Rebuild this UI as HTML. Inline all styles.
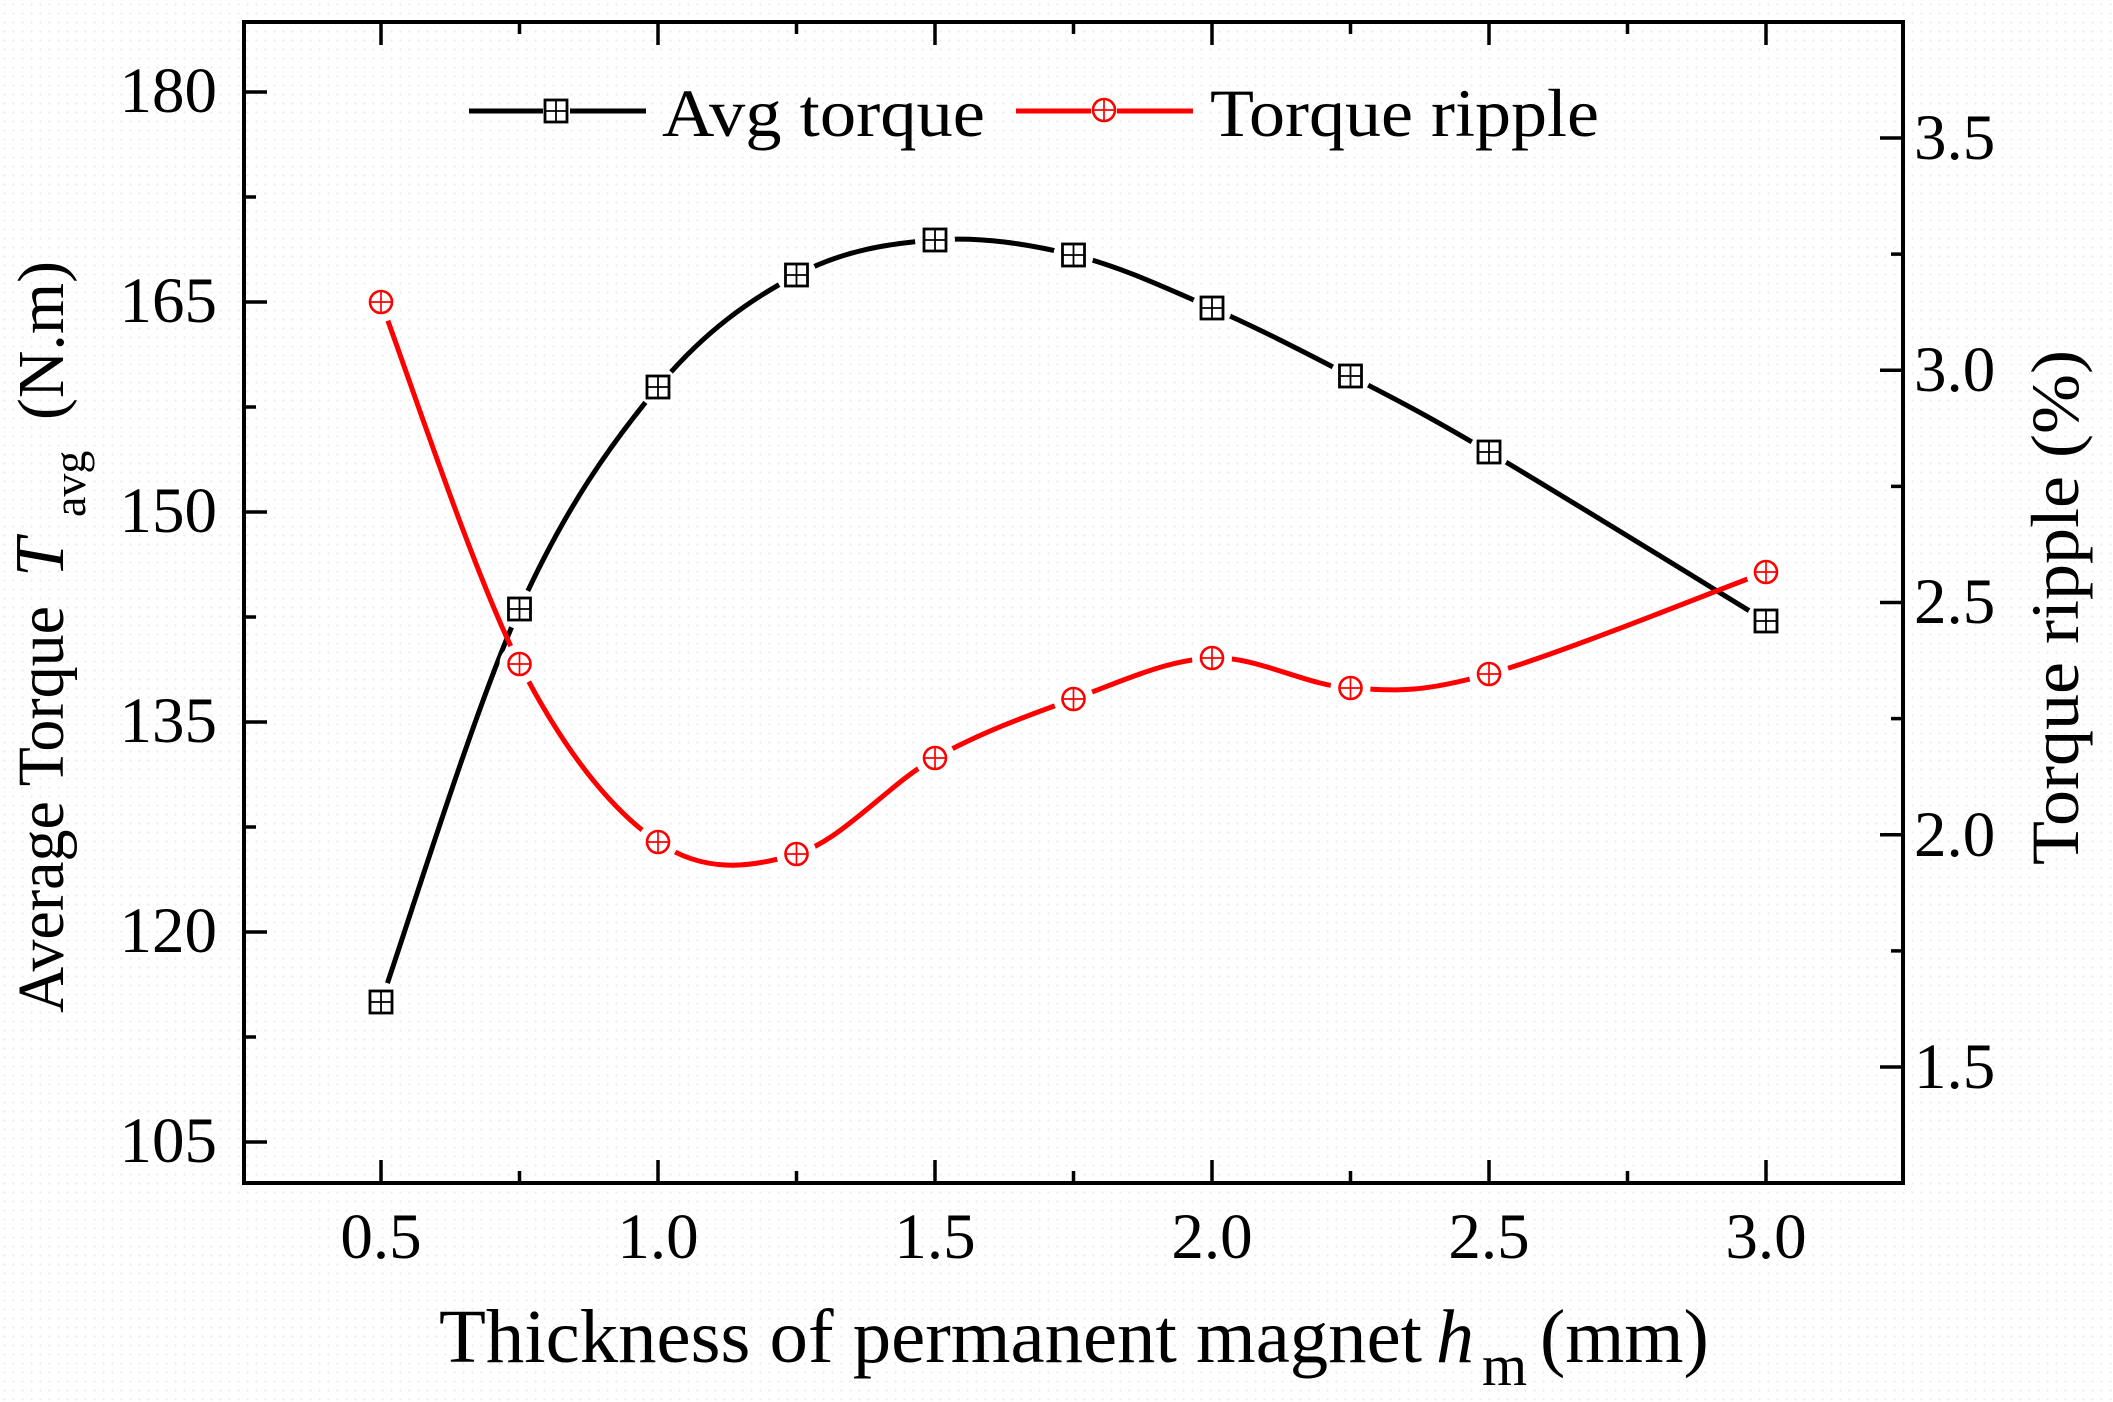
<!DOCTYPE html>
<html>
<head>
<meta charset="utf-8">
<style>
  html, body { margin: 0; padding: 0; background: #ffffff; }
  svg { display: block; }
  text { font-family: "Liberation Serif", "Times New Roman", serif; fill: #000; }
</style>
</head>
<body>
<svg width="2113" height="1402" viewBox="0 0 2113 1402" xmlns="http://www.w3.org/2000/svg">
  <defs>
    <pattern id="dots" x="0" y="0" width="9" height="9" patternUnits="userSpaceOnUse">
      <circle cx="4.5" cy="4.5" r="1.1" fill="#ececec"/>
    </pattern>
  </defs>
  <rect x="0" y="0" width="2113" height="1402" fill="#ffffff"/>
  <rect x="0" y="0" width="2113" height="1402" fill="url(#dots)"/>

  <!-- Ticks -->
  <g stroke="#000" stroke-width="3.5" fill="none">
    <path d="M381 1183V1160 M658 1183V1160 M935 1183V1160 M1212 1183V1160 M1489 1183V1160 M1766 1183V1160"/>
    <path d="M519.5 1183V1171 M796.5 1183V1171 M1073.5 1183V1171 M1350.5 1183V1171 M1627.5 1183V1171"/>
    <path d="M381 22V45 M658 22V45 M935 22V45 M1212 22V45 M1489 22V45 M1766 22V45"/>
    <path d="M519.5 22V34 M796.5 22V34 M1073.5 22V34 M1350.5 22V34 M1627.5 22V34"/>
    <path d="M244 1142H267 M244 932H267 M244 722H267 M244 512H267 M244 302H267 M244 92H267"/>
    <path d="M244 1037H256 M244 827H256 M244 617H256 M244 407H256 M244 197H256"/>
    <path d="M1903 1067H1880 M1903 834.75H1880 M1903 602.5H1880 M1903 370.25H1880 M1903 138H1880"/>
    <path d="M1903 950.9H1891 M1903 718.6H1891 M1903 486.4H1891 M1903 254.1H1891"/>
  </g>

  <!-- Frame -->
  <rect x="244" y="22" width="1659" height="1161" fill="none" stroke="#000" stroke-width="4"/>

  <!-- Tick labels -->
  <g font-size="65">
    <text x="381" y="1258" text-anchor="middle">0.5</text>
    <text x="658" y="1258" text-anchor="middle">1.0</text>
    <text x="935" y="1258" text-anchor="middle">1.5</text>
    <text x="1212" y="1258" text-anchor="middle">2.0</text>
    <text x="1489" y="1258" text-anchor="middle">2.5</text>
    <text x="1766" y="1258" text-anchor="middle">3.0</text>

    <text x="217" y="1162" text-anchor="end">105</text>
    <text x="217" y="952" text-anchor="end">120</text>
    <text x="217" y="742" text-anchor="end">135</text>
    <text x="217" y="532" text-anchor="end">150</text>
    <text x="217" y="322" text-anchor="end">165</text>
    <text x="217" y="112" text-anchor="end">180</text>

    <text x="1914" y="1088">1.5</text>
    <text x="1914" y="856">2.0</text>
    <text x="1914" y="623">2.5</text>
    <text x="1914" y="391">3.0</text>
    <text x="1914" y="159">3.5</text>
  </g>

  <!-- X axis title -->
  <text x="439" y="1362" font-size="76" textLength="983" lengthAdjust="spacingAndGlyphs">Thickness of permanent magnet</text>
  <text x="1436" y="1362" font-size="76" font-style="italic">h</text>
  <text x="1482" y="1385" font-size="58">m</text>
  <text x="1540" y="1362" font-size="76">(mm)</text>

  <!-- Left Y title -->
  <g transform="translate(63,1015) rotate(-90)">
    <text x="2" y="0" font-size="66" textLength="407" lengthAdjust="spacingAndGlyphs">Average Torque</text>
    <text x="438" y="0" font-size="70" font-style="italic">T</text>
    <text x="498" y="22" font-size="46">avg</text>
    <text x="595" y="0" font-size="66" textLength="159" lengthAdjust="spacingAndGlyphs">(N.m)</text>
  </g>

  <!-- Right Y title -->
  <g transform="translate(2078,865) rotate(-90)">
    <text x="0" y="0" font-size="68" textLength="515" lengthAdjust="spacingAndGlyphs">Torque ripple (%)</text>
  </g>

  <!-- Black series: Avg torque -->
  <path fill="none" stroke="#000" stroke-width="5" stroke-linejoin="round"
    d="M381 1002
       C404.1 936.5 473.3 711.5 519.5 609
       C565.7 506.5 611.8 442.7 658 387
       C704.2 331.3 750.3 299.5 796.5 275
       C842.7 250.5 888.8 243.3 935 240
       C981.2 236.7 1027.3 243.7 1073.5 255
       C1119.7 266.3 1165.8 287.8 1212 308
       C1258.2 328.2 1304.3 352 1350.5 376
       C1396.7 400 1419.75 411.2 1489 452
       C1558.25 492.8 1719.8 592.8 1766 621"/>
  <g fill="#fff">
    <circle cx="381" cy="1002" r="20"/>
    <circle cx="519.5" cy="609" r="20"/>
    <circle cx="658" cy="387" r="20"/>
    <circle cx="796.5" cy="275" r="20"/>
    <circle cx="935" cy="240" r="20"/>
    <circle cx="1073.5" cy="255" r="20"/>
    <circle cx="1212" cy="308" r="20"/>
    <circle cx="1350.5" cy="376" r="20"/>
    <circle cx="1489" cy="452" r="20"/>
    <circle cx="1766" cy="621" r="20"/>
  </g>
  <g fill="none" stroke="#000" stroke-width="2.8">
    <rect x="370" y="991" width="22" height="22"/><path d="M381 991V1013 M370 1002H392" stroke-width="1.8"/>
    <rect x="508.5" y="598" width="22" height="22"/><path d="M519.5 598V620 M508.5 609H530.5" stroke-width="1.8"/>
    <rect x="647" y="376" width="22" height="22"/><path d="M658 376V398 M647 387H669" stroke-width="1.8"/>
    <rect x="785.5" y="264" width="22" height="22"/><path d="M796.5 264V286 M785.5 275H807.5" stroke-width="1.8"/>
    <rect x="924" y="229" width="22" height="22"/><path d="M935 229V251 M924 240H946" stroke-width="1.8"/>
    <rect x="1062.5" y="244" width="22" height="22"/><path d="M1073.5 244V266 M1062.5 255H1084.5" stroke-width="1.8"/>
    <rect x="1201" y="297" width="22" height="22"/><path d="M1212 297V319 M1201 308H1223" stroke-width="1.8"/>
    <rect x="1339.5" y="365" width="22" height="22"/><path d="M1350.5 365V387 M1339.5 376H1361.5" stroke-width="1.8"/>
    <rect x="1478" y="441" width="22" height="22"/><path d="M1489 441V463 M1478 452H1500" stroke-width="1.8"/>
    <rect x="1755" y="610" width="22" height="22"/><path d="M1766 610V632 M1755 621H1777" stroke-width="1.8"/>
  </g>

  <!-- Red series: Torque ripple -->
  <path fill="none" stroke="#ff0000" stroke-width="5" stroke-linejoin="round"
    d="M381 302
       C404.1 362.3 473.3 574 519.5 664
       C565.7 754 611.8 810.3 658 842
       C704.2 873.7 750.3 868 796.5 854
       C842.7 840 888.8 783.8 935 758
       C981.2 732.2 1027.3 715.7 1073.5 699
       C1119.7 682.3 1165.8 659.8 1212 658
       C1258.2 656.2 1304.3 685.3 1350.5 688
       C1396.7 690.7 1419.75 693.3 1489 674
       C1558.25 654.7 1719.8 589 1766 572"/>
  <g fill="#fff">
    <circle cx="381" cy="302" r="20"/>
    <circle cx="519.5" cy="664" r="20"/>
    <circle cx="658" cy="842" r="20"/>
    <circle cx="796.5" cy="854" r="20"/>
    <circle cx="935" cy="758" r="20"/>
    <circle cx="1073.5" cy="699" r="20"/>
    <circle cx="1212" cy="658" r="20"/>
    <circle cx="1350.5" cy="688" r="20"/>
    <circle cx="1489" cy="674" r="20"/>
    <circle cx="1766" cy="572" r="20"/>
  </g>
  <g fill="none" stroke="#ff0000" stroke-width="2.6">
    <circle cx="381" cy="302" r="11"/><path d="M381 291V313 M370 302H392" stroke-width="1.7"/>
    <circle cx="519.5" cy="664" r="11"/><path d="M519.5 653V675 M508.5 664H530.5" stroke-width="1.7"/>
    <circle cx="658" cy="842" r="11"/><path d="M658 831V853 M647 842H669" stroke-width="1.7"/>
    <circle cx="796.5" cy="854" r="11"/><path d="M796.5 843V865 M785.5 854H807.5" stroke-width="1.7"/>
    <circle cx="935" cy="758" r="11"/><path d="M935 747V769 M924 758H946" stroke-width="1.7"/>
    <circle cx="1073.5" cy="699" r="11"/><path d="M1073.5 688V710 M1062.5 699H1084.5" stroke-width="1.7"/>
    <circle cx="1212" cy="658" r="11"/><path d="M1212 647V669 M1201 658H1223" stroke-width="1.7"/>
    <circle cx="1350.5" cy="688" r="11"/><path d="M1350.5 677V699 M1339.5 688H1361.5" stroke-width="1.7"/>
    <circle cx="1489" cy="674" r="11"/><path d="M1489 663V685 M1478 674H1500" stroke-width="1.7"/>
    <circle cx="1766" cy="572" r="11"/><path d="M1766 561V583 M1755 572H1777" stroke-width="1.7"/>
  </g>

  <!-- Legend -->
  <path d="M469 111H543 M570 111H646" stroke="#000" stroke-width="5"/>
  <rect x="545" y="100" width="22" height="22" fill="#fff" stroke="#000" stroke-width="2.8"/>
  <path d="M556 100V122 M545 111H567" stroke="#000" stroke-width="1.8"/>
  <text x="662" y="136" font-size="68" textLength="323" lengthAdjust="spacingAndGlyphs">Avg torque</text>

  <path d="M1016 111H1091 M1117 111H1193" stroke="#ff0000" stroke-width="5"/>
  <circle cx="1104" cy="110" r="11" fill="#fff" stroke="#ff0000" stroke-width="2.6"/>
  <path d="M1104 99V121 M1093 110H1115" stroke="#ff0000" stroke-width="1.7"/>
  <text x="1210" y="136" font-size="68" textLength="389" lengthAdjust="spacingAndGlyphs">Torque ripple</text>
</svg>
</body>
</html>
